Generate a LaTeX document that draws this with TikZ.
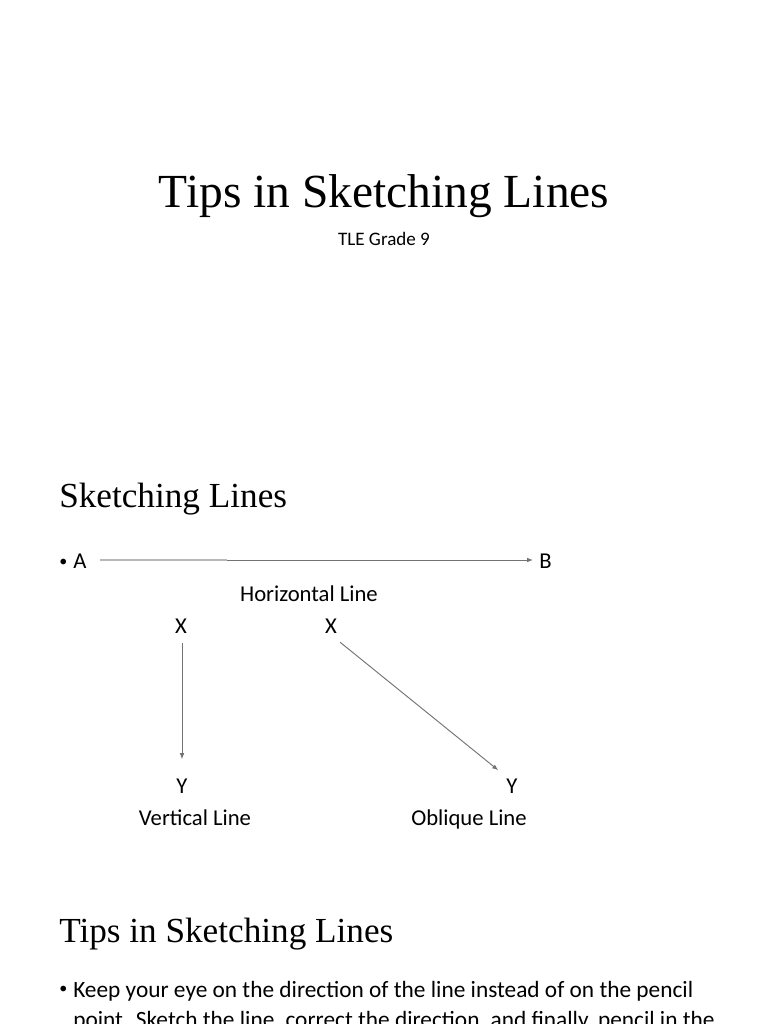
\documentclass[tikz,border=0pt]{standalone}
\usepackage{fontspec}
\setmainfont{Liberation Serif}
\newfontfamily\calib{Carlito}
\usetikzlibrary{arrows.meta}
\tikzset{
  title/.style={inner sep=0pt, anchor=base, font=\fontsize{35.6}{40}\selectfont},
  subtitle/.style={inner sep=0pt, anchor=base, font=\calib\fontsize{14.3}{17}\selectfont},
  heading/.style={inner sep=0pt, anchor=base west, font=\fontsize{26.4}{30}\selectfont},
  lbl/.style={inner sep=0pt, anchor=base, font=\calib\fontsize{17}{20}\selectfont},
  lblw/.style={inner sep=0pt, anchor=base west, font=\calib\fontsize{17}{20}\selectfont},
  bul/.style={inner sep=0pt, anchor=base west, font=\calib\fontsize{12}{14}\selectfont},
  body/.style={inner sep=0pt, anchor=base west, font=\calib\fontsize{17.5}{20}\selectfont},
  arr/.style={draw=black!55, line width=0.7pt, -{Latex[length=4.5pt,width=3.5pt]}},
  lightline/.style={draw=black!28, line width=0.8pt},
}
\begin{document}
\begin{tikzpicture}[x=0.75pt,y=-0.75pt]
\useasboundingbox (0,0) rectangle (768,1024);
\fill[white] (0,0) rectangle (768,1024);

% slide 1
\node[title] (t1) at (384,207) {Tips in Sketching Lines};
\node[subtitle] (st) at (384,245) {TLE Grade 9};

% slide 2
\node[heading] (h2) at (59,507) {Sketching Lines};
\node[bul] (bA) at (59,566) {•};
\node[lblw] (A) at (73,568) {A};
\node[lblw] (B) at (539,568) {B};
\coordinate (mid) at (227,560);
\draw[lightline] ([shift={(13,-8)}]A.base east) -- (mid);
\draw[arr] (mid) -- ([shift={(-6,-8)}]B.base west);
\node[lbl] (hl) at (309,601) {Horizontal Line};

\node[lbl] (X1) at (181,633) {X};
\node[lbl] (X2) at (331,633) {X};
\node[lbl] (Y1) at (182,793) {Y};
\node[lbl] (Y2) at (512,793) {Y};
\draw[arr] ([shift={(1,10)}]X1.south) -- ([shift={(0,-19)}]Y1.north);
\draw[arr] ([shift={(3,9)}]X2.south east) -- ([shift={(-8,-8)}]Y2.north west);
\node[lbl] (vl) at (195,825) {Vertical Line};
\node[lbl] (ol) at (469,825) {Oblique Line};

% slide 3
\node[heading] (h3) at (59,942) {Tips in Sketching Lines};
\node[bul] (b3) at (59,993) {•};
\node[body] (tip1) at (73,997) {Keep your eye on the direction of the line instead of on the pencil};
\node[body] (tip2) at (73,1027) {point. Sketch the line, correct the direction, and finally, pencil in the};
\end{tikzpicture}
\end{document}
